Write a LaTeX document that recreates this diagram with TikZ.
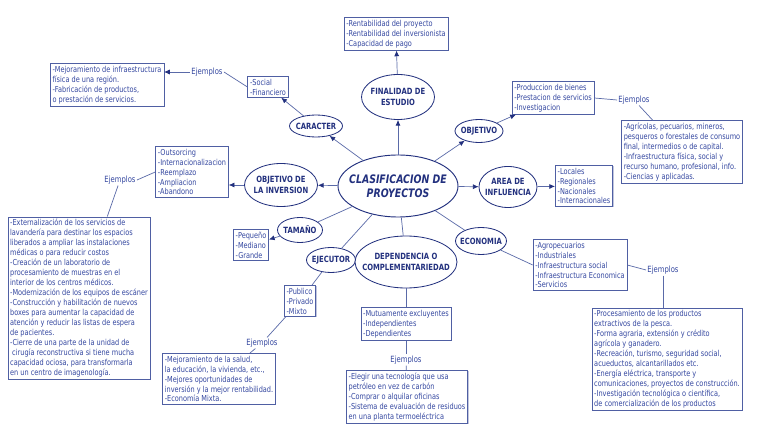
\documentclass[tikz,border=0pt]{standalone}
\usepackage{fontspec}
\setmainfont{DejaVu Sans}[FakeStretch=0.8]
\usetikzlibrary{arrows.meta,shapes.geometric,shadows}
\definecolor{Navy}{HTML}{22307E}
\definecolor{Ink}{HTML}{3447A0}
\definecolor{Wire}{HTML}{5A6AA8}
\definecolor{Frame}{HTML}{4F5FA3}
\tikzset{
  hub/.style={
    ellipse, draw=Navy, line width=0.8pt, fill=white, text=Navy,
    inner xsep=-4mm, inner ysep=0pt, align=center,
    font=\fontsize{10}{12}\selectfont\bfseries\itshape
  },
  concept/.style={
    ellipse, draw=Navy, line width=0.7pt, fill=white, text=Navy,
    inner xsep=-4mm, inner ysep=0pt, align=center,
    font=\fontsize{7.3}{9}\selectfont\bfseries
  },
  listbox/.style={
    draw=Frame, line width=0.5pt, fill=white, text=Ink, align=left,
    inner sep=2pt, font=\fontsize{7}{8.5}\selectfont,
    drop shadow={shadow xshift=0.7pt, shadow yshift=-0.7pt, fill=Frame!50, opacity=0.7}
  },
  note/.style={text=Ink, inner sep=1pt, font=\fontsize{7.3}{8.5}\selectfont},
  flow/.style={-{Latex[length=1.7mm,width=1.5mm,color=Navy]}, line width=0.6pt, draw=Wire},
  link/.style={line width=0.6pt, draw=Wire}
}
\begin{document}
\begin{tikzpicture}[x=0.03cm,y=-0.03cm]
  \path[fill=white] (0,0) rectangle (768,433);
  % ellipses
  \node[hub,minimum width=3.6cm,minimum height=1.86cm] (clas) at (398,186) {CLASIFICACION DE\\PROYECTOS};
  \node[concept,minimum width=2.19cm,minimum height=1.35cm] (fin) at (398,97) {FINALIDAD DE\\ESTUDIO};
  \node[concept,minimum width=1.59cm,minimum height=0.66cm] (car) at (316,126) {CARACTER};
  \node[concept,minimum width=1.44cm,minimum height=0.69cm] (obj) at (479,131) {OBJETIVO};
  \node[concept,minimum width=1.74cm,minimum height=1.23cm] (area) at (508,187) {AREA DE\\INFLUENCIA};
  \node[concept,minimum width=2.19cm,minimum height=1.29cm] (inv) at (281,185) {OBJETIVO DE\\LA INVERSION};
  \node[concept,minimum width=1.35cm,minimum height=0.75cm] (tam) at (300,230) {TAMAÑO};
  \node[concept,minimum width=1.47cm,minimum height=0.75cm] (eje) at (331,260) {EJECUTOR};
  \node[concept,minimum width=3.06cm,minimum height=1.56cm] (dep) at (406,262) {DEPENDENCIA O\\COMPLEMENTARIEDAD};
  \node[concept,minimum width=1.53cm,minimum height=0.81cm] (eco) at (481,241) {ECONOMIA};
  % lists
  \node[listbox] (rent) at (396,34) {-Rentabilidad del proyecto\\-Rentabilidad del inversionista\\-Capacidad de pago};
  \node[listbox] (soc) at (268,87) {-Social\\-Financiero};
  \node[listbox] (mej) at (107,85) {-Mejoramiento de infraestructura\\física de una región.\\-Fabricación de productos,\\o prestación de servicios.};
  \node[listbox] (prod) at (553,98) {-Produccion de bienes\\-Prestacion de servicios\\-Investigacion};
  \node[listbox] (agri) at (682,152) {-Agrícolas, pecuarios, mineros,\\pesqueros o forestales de consumo\\final, intermedios o de capital.\\-Infraestructura física, social y\\recurso humano, profesional, info.\\-Ciencias y aplicadas.};
  \node[listbox] (loc) at (584,186) {-Locales\\-Regionales\\-Nacionales\\-Internacionales};
  \node[listbox] (out) at (192,172) {-Outsorcing\\-Internacionalizacion\\-Reemplazo\\-Ampliacion\\-Abandono};
  \node[listbox] (left) at (79,298) {-Externalización de los servicios de\\lavandería para destinar los espacios\\liberados a ampliar las instalaciones\\médicas o para reducir costos\\-Creación de un laboratorio de\\procesamiento de muestras en el\\interior de los centros médicos.\\-Modernización de los equipos de escáner\\-Construcción y habilitación de nuevos\\boxes para aumentar la capacidad de\\atención y reducir las listas de espera\\de pacientes.\\-Cierre de una parte de la unidad de\\\ cirugía reconstructiva si tiene mucha\\capacidad ociosa, para transformarla\\en un centro de imagenología.};
  \node[listbox] (peq) at (251,245) {-Pequeño\\-Mediano\\-Grande};
  \node[listbox] (pub) at (300,301) {-Publico\\-Privado\\-Mixto};
  \node[listbox] (salud) at (219,379) {-Mejoramiento de la salud,\\la educación, la vivienda, etc.,\\-Mejores oportunidades de\\inversión y la mejor rentabilidad.\\-Economía Mixta.};
  \node[listbox] (mut) at (406,324) {-Mutuamente excluyentes\\-Independientes\\-Dependientes};
  \node[listbox] (eleg) at (407,397) {-Elegir una tecnología que usa\\petróleo en vez de carbón\\-Comprar o alquilar oficinas\\-Sistema de evaluación de residuos\\en una planta termoeléctrica};
  \node[listbox] (agro) at (580,265) {-Agropecuarios\\-Industriales\\-Infraestructura social\\-Infraestructura Economica\\-Servicios};
  \node[listbox] (proc) at (667,359) {-Procesamiento de los productos\\extractivos de la pesca.\\-Forma agraria, extensión y crédito\\agrícola y ganadero.\\-Recreación, turismo, seguridad social,\\acueductos, alcantarillados etc.\\-Energía eléctrica, transporte y\\comunicaciones, proyectos de construcción.\\-Investigación tecnológica o científica,\\de comercialización de los productos};
  % Ejemplos
  \node[note] (ej1) at (207,72) {Ejemplos};
  \node[note] (ej2) at (634,100) {Ejemplos};
  \node[note] (ej3) at (120,180) {Ejemplos};
  \node[note] (ej4) at (262,343) {Ejemplos};
  \node[note] (ej5) at (406,360) {Ejemplos};
  \node[note] (ej6) at (663,270) {Ejemplos};
  % connectors
  \draw[flow] (clas) -- (fin);
  \draw[flow] (fin) -- (rent);
  \draw[flow] (clas) -- (car);
  \draw[flow] (car) -- (soc);
  \draw[link] (soc.west) -- (ej1.east);
  \draw[flow] (ej1.west) -- (ej1.west -| mej.east);
  \draw[flow] (clas) -- (obj);
  \draw[flow] (obj) -- (prod);
  \draw[link] (prod.east) -- (ej2.west);
  \draw[link] (ej2) -- (agri);
  \draw[flow] (clas) -- (area);
  \draw[flow] (area) -- (loc);
  \draw[flow] (clas) -- (inv);
  \draw[flow] (inv.west) -- (inv.west -| out.east);
  \draw[link] (out.west) -- (ej3.east);
  \draw[link] (ej3) -- (left);
  \draw[link] (clas) -- (tam);
  \draw[flow] (tam) -- (peq);
  \draw[link] (clas) -- (eje);
  \draw[link] (eje) -- (pub);
  \draw[link] (pub) -- (ej4);
  \draw[link] (ej4) -- (salud);
  \draw[link] (clas) -- (dep);
  \draw[link] (dep) -- (mut);
  \draw[link] (mut) -- (ej5);
  \draw[link] (ej5) -- (eleg);
  \draw[link] (clas) -- (eco);
  \draw[link] (eco) -- (agro.west);
  \draw[link] (agro.east) -- (ej6.west);
  \draw[link] (ej6.south) -- (ej6.south |- proc.north);
\end{tikzpicture}
\end{document}
